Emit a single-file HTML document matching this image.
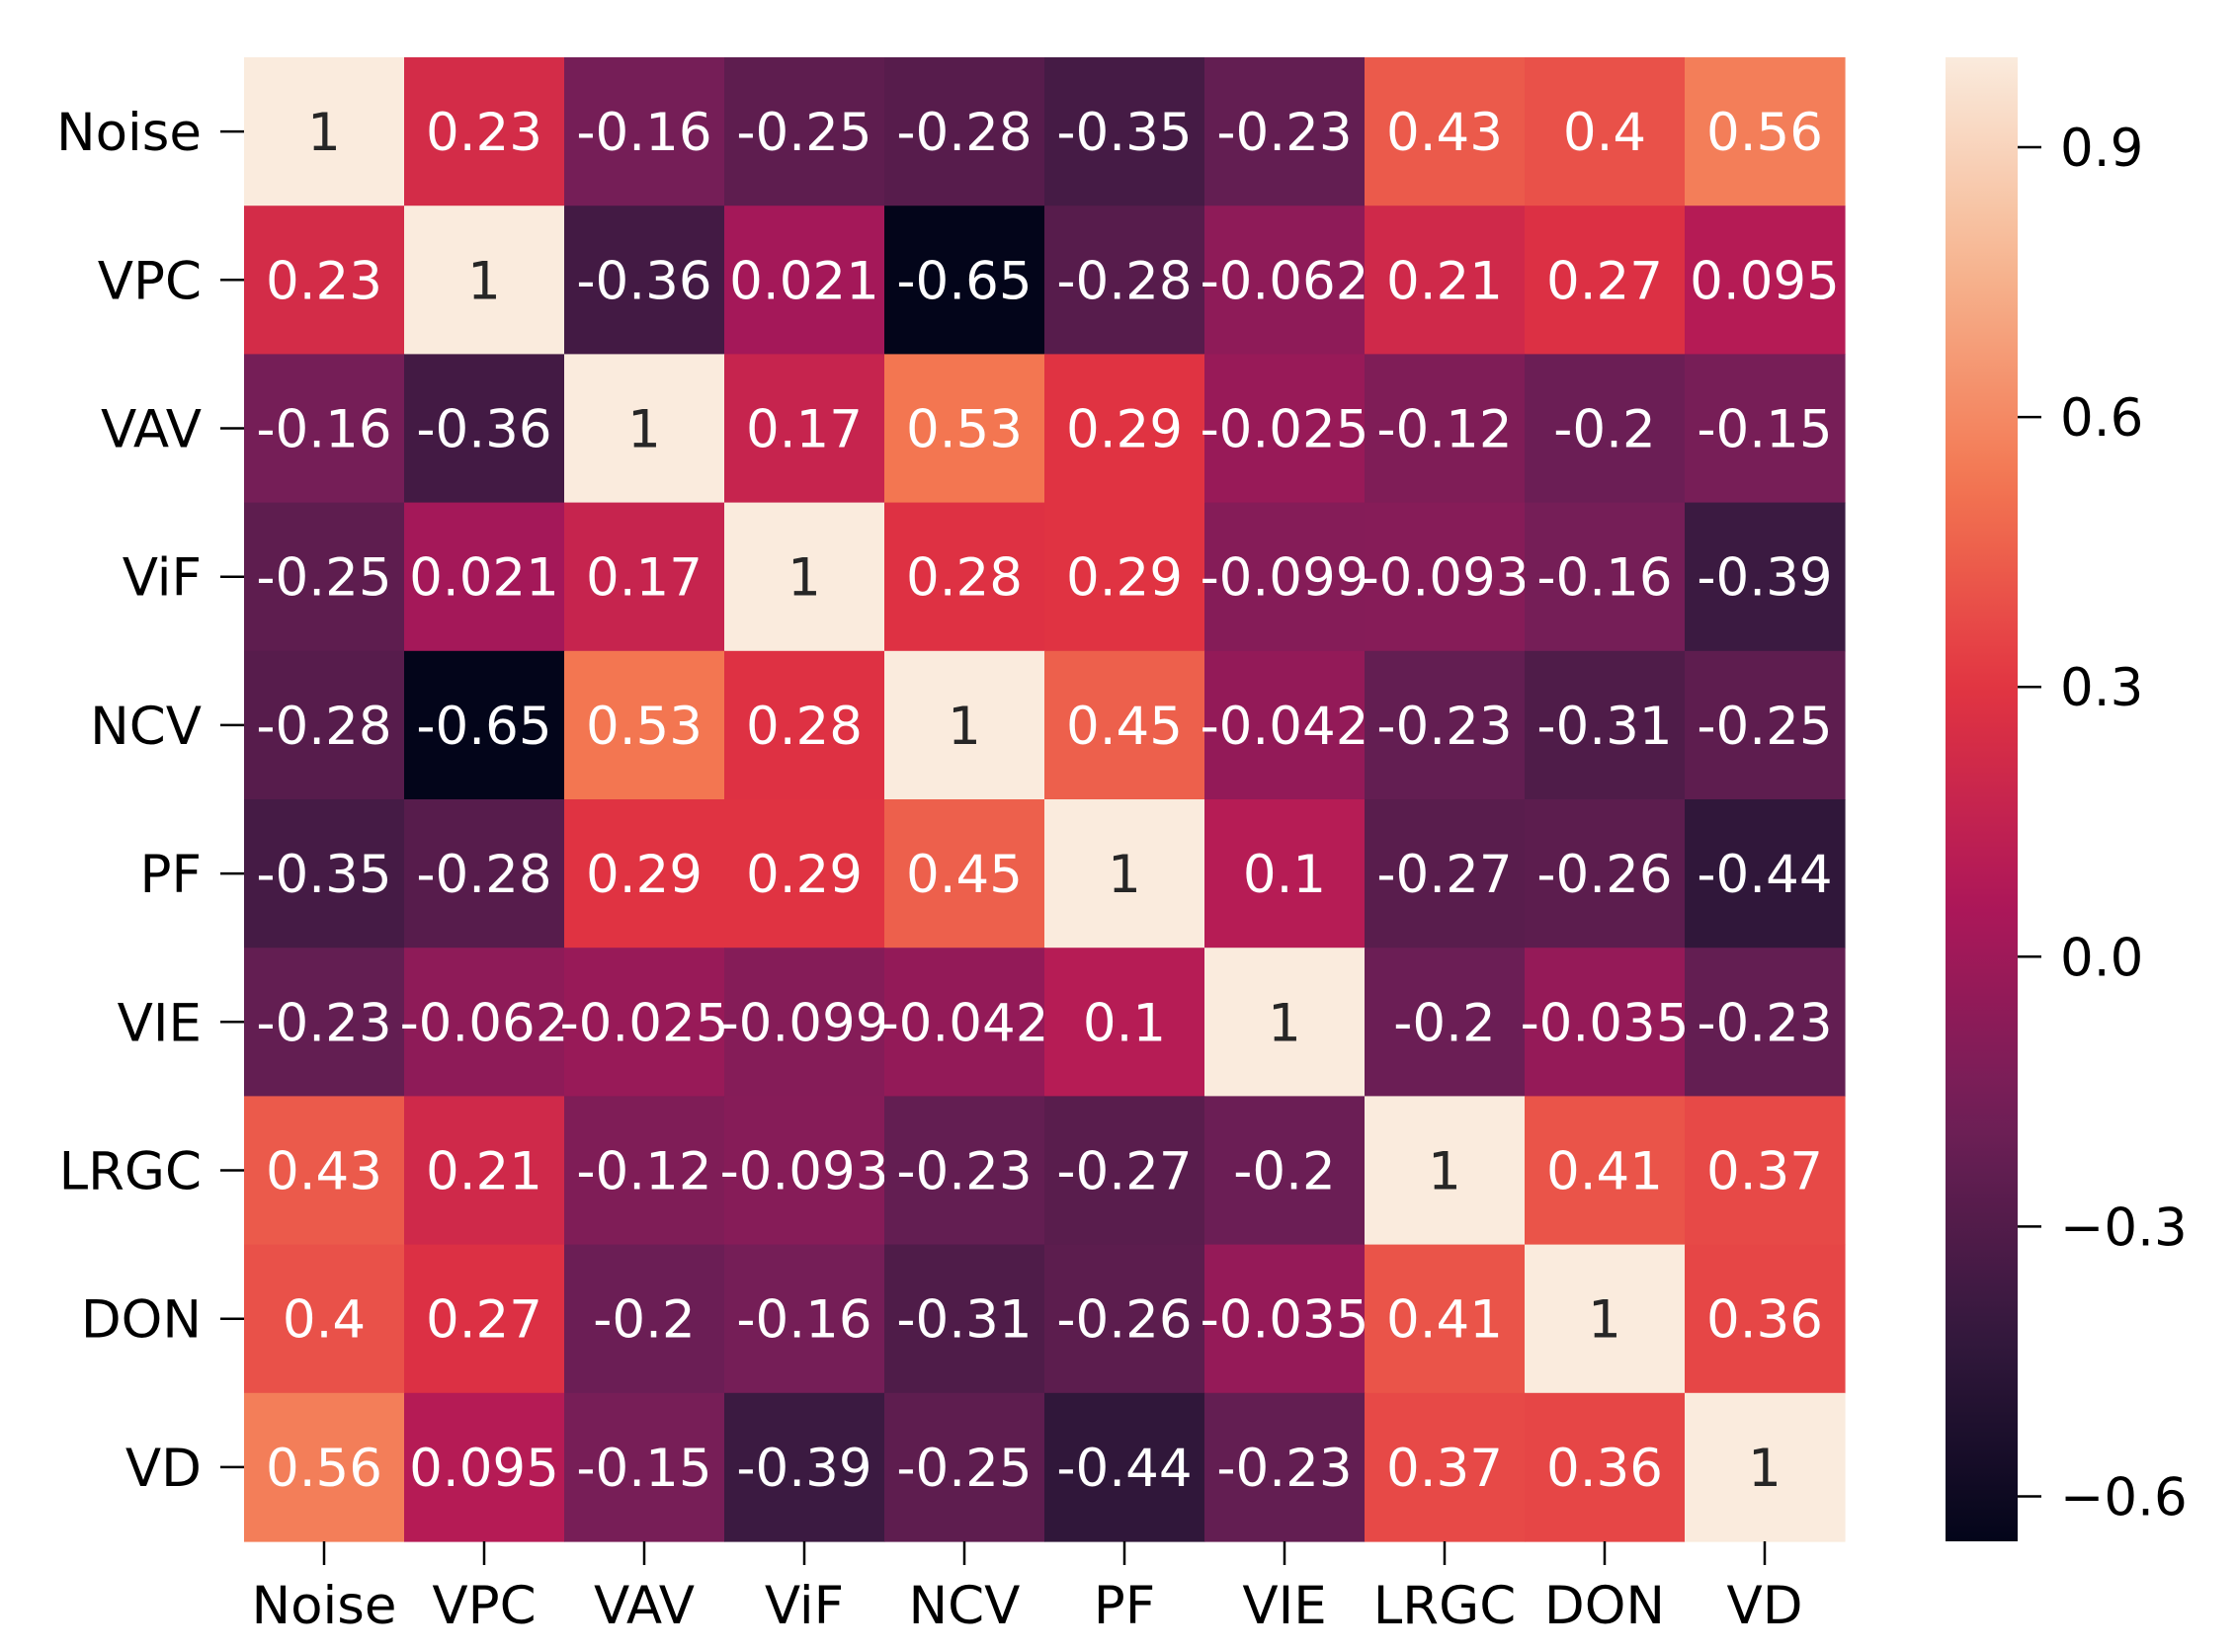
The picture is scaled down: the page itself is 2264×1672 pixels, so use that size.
<!DOCTYPE html>
<html><head><meta charset="utf-8">
<style>
html,body{margin:0;padding:0;background:#fff;}
svg{display:block;}
text{font-family:"DejaVu Sans","Liberation Sans",sans-serif;font-size:53px;}
</style></head>
<body>
<svg id="s" width="2264" height="1672" xmlns="http://www.w3.org/2000/svg"></svg>
<script>
const labels=["Noise","VPC","VAV","ViF","NCV","PF","VIE","LRGC","DON","VD"];
const M=[
[1,0.23,-0.16,-0.25,-0.28,-0.35,-0.23,0.43,0.4,0.56],
[0.23,1,-0.36,0.021,-0.65,-0.28,-0.062,0.21,0.27,0.095],
[-0.16,-0.36,1,0.17,0.53,0.29,-0.025,-0.12,-0.2,-0.15],
[-0.25,0.021,0.17,1,0.28,0.29,-0.099,-0.093,-0.16,-0.39],
[-0.28,-0.65,0.53,0.28,1,0.45,-0.042,-0.23,-0.31,-0.25],
[-0.35,-0.28,0.29,0.29,0.45,1,0.1,-0.27,-0.26,-0.44],
[-0.23,-0.062,-0.025,-0.099,-0.042,0.1,1,-0.2,-0.035,-0.23],
[0.43,0.21,-0.12,-0.093,-0.23,-0.27,-0.2,1,0.41,0.37],
[0.4,0.27,-0.2,-0.16,-0.31,-0.26,-0.035,0.41,1,0.36],
[0.56,0.095,-0.15,-0.39,-0.25,-0.44,-0.23,0.37,0.36,1]];
const stops=[[0,"#03051a"],[1/7,"#35193e"],[2/7,"#701f57"],[3/7,"#ad1759"],[4/7,"#e13342"],[5/7,"#f37651"],[6/7,"#f6b48f"],[1,"#faebdd"]];
function hx(h){return [1,3,5].map(i=>parseInt(h.substr(i,2),16));}
function cmap(t){t=Math.max(0,Math.min(1,t));for(let i=0;i<stops.length-1;i++){const[a,ca]=stops[i],[b,cb]=stops[i+1];if(t<=b){const f=(t-a)/(b-a);const A=hx(ca),B=hx(cb);return "rgb("+A.map((v,k)=>Math.round(v+(B[k]-v)*f)).join(",")+")";}}return stops[7][1];}
const vmin=-0.65,vmax=1;
const X0=247,Y0=58,W=1620,H=1502,cw=W/10,ch=H/10;
let s="";
for(let r=0;r<10;r++)for(let c=0;c<10;c++){
 const v=M[r][c],t=(v-vmin)/(vmax-vmin);
 s+=`<rect x="${X0+c*cw}" y="${Y0+r*ch}" width="${cw+0.6}" height="${ch+0.6}" fill="${cmap(t)}"/>`;
 s+=`<text x="${X0+c*cw+cw/2}" y="${Y0+r*ch+ch/2+19}" text-anchor="middle" fill="${v===1?'#262626':'#ffffff'}">${v}</text>`;
}
for(let i=0;i<10;i++){
 const y=Y0+i*ch+ch/2;
 s+=`<line x1="223" y1="${y}" x2="247" y2="${y}" stroke="#000" stroke-width="2.5"/>`;
 s+=`<text x="204" y="${y+19}" text-anchor="end" fill="#000">${labels[i]}</text>`;
 const x=X0+i*cw+cw/2;
 s+=`<line x1="${x}" y1="1560" x2="${x}" y2="1584" stroke="#000" stroke-width="2.5"/>`;
 s+=`<text x="${x}" y="1643" text-anchor="middle" fill="#000">${labels[i]}</text>`;
}
let g='<defs><linearGradient id="cb" x1="0" y1="1" x2="0" y2="0">';
for(let i=0;i<=40;i++){g+=`<stop offset="${i/40}" stop-color="${cmap(i/40)}"/>`;}
g+='</linearGradient></defs>';
s=g+s+`<rect x="1969" y="58" width="73" height="1502" fill="url(#cb)"/>`;
[0.9,0.6,0.3,0.0,-0.3,-0.6].forEach(v=>{
 const y=1560-(v-vmin)/(vmax-vmin)*1502;
 s+=`<line x1="2042" y1="${y}" x2="2066" y2="${y}" stroke="#000" stroke-width="2.5"/>`;
 s+=`<text x="2085" y="${y+19}" fill="#000">${v<0?'\u2212':''}${Math.abs(v).toFixed(1)}</text>`;
});
document.getElementById("s").innerHTML=s;
</script>
</body></html>
